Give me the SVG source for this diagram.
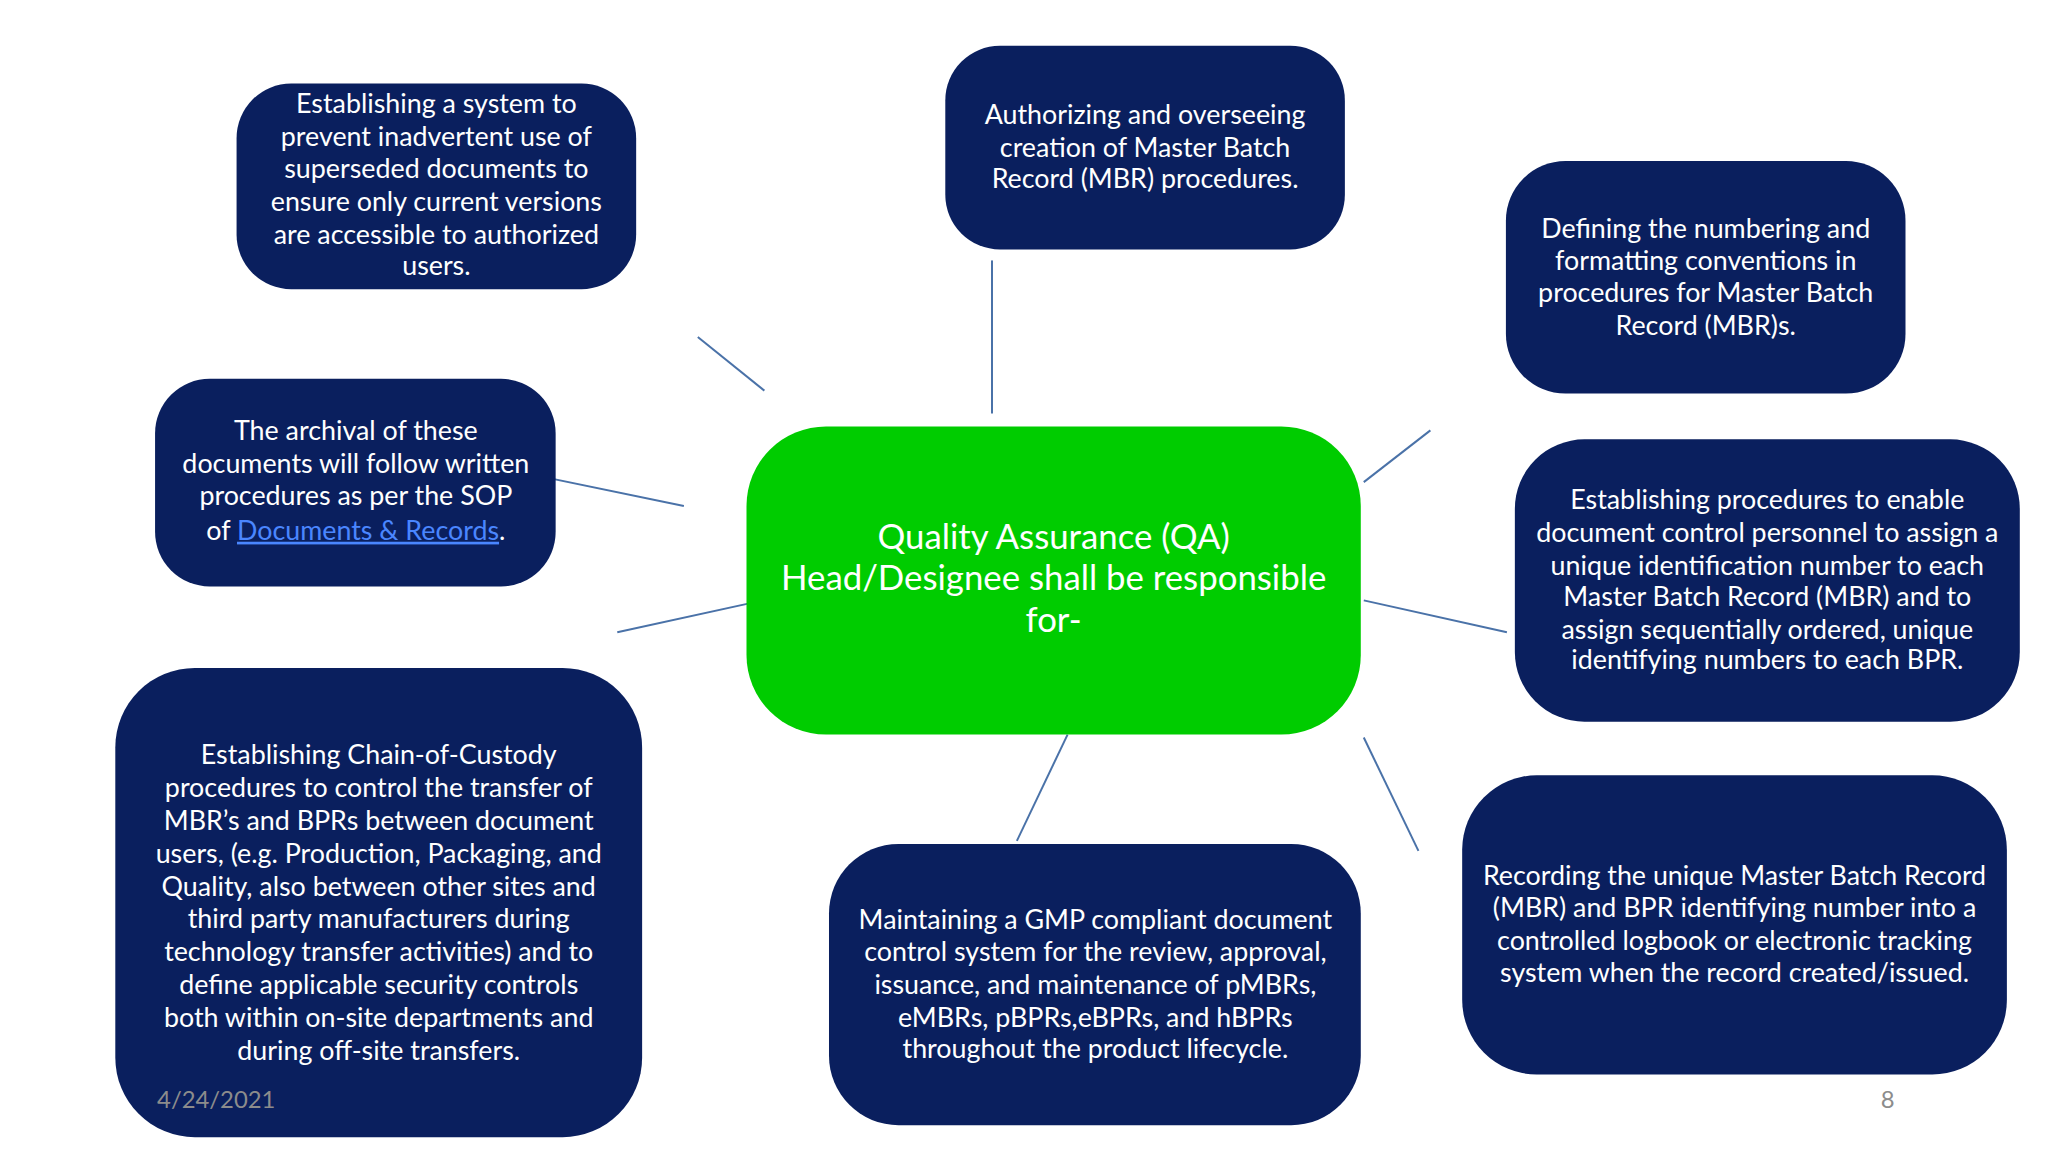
<svg xmlns="http://www.w3.org/2000/svg" width="2048" height="1152" viewBox="0 0 2048 1152">
<style>
.n{fill:#0a1f5e}
.t{font-family:Lato,"Open Sans",sans-serif;font-size:27px;fill:#fff;text-anchor:middle}
.c{font-family:Lato,"Open Sans",sans-serif;font-size:35px;fill:#fff;text-anchor:middle}
.l{stroke:#4a72a8;stroke-width:2;fill:none}
.f{font-family:Lato,"Open Sans",sans-serif;font-size:24px;fill:#8c8c8c}
</style>
<rect width="2048" height="1152" fill="#fff"/>
<g transform="scale(0.994)">
<g id="connectors">
<line class="l" x1="702" y1="339" x2="769" y2="393"/>
<line class="l" x1="998" y1="262" x2="998" y2="416"/>
<line class="l" x1="1439" y1="433" x2="1372" y2="485"/>
<line class="l" x1="533" y1="477" x2="688" y2="509" stroke-width="1"/>
<line class="l" x1="621" y1="636" x2="763" y2="605"/>
<line class="l" x1="1372" y1="604" x2="1516" y2="636"/>
<line class="l" x1="1074" y1="739" x2="1023" y2="846"/>
<line class="l" x1="1372" y1="742" x2="1427" y2="856"/>
</g>
<g id="center">
<rect x="751" y="429" width="618" height="310" rx="80" fill="#00cc00"/>
<text class="c" x="1060" y="552">Quality Assurance (QA)</text>
<text class="c" x="1060" y="594">Head/Designee shall be responsible</text>
<text class="c" x="1060" y="636">for-</text>
</g>
<g id="n1">
<rect class="n" x="238" y="84" width="402" height="207" rx="55"/>
<text class="t" x="439"><tspan x="439" y="114">Establishing a system to</tspan><tspan x="439" y="147">prevent inadvertent use of</tspan><tspan x="439" y="179">superseded documents to</tspan><tspan x="439" y="212">ensure only current versions</tspan><tspan x="439" y="245">are accessible to authorized</tspan><tspan x="439" y="277">users.</tspan></text>
</g>
<g id="n2">
<rect class="n" x="951" y="46" width="402" height="205" rx="55"/>
<text class="t"><tspan x="1152" y="125">Authorizing and overseeing</tspan><tspan x="1152" y="158">creation of Master Batch</tspan><tspan x="1152" y="189">Record (MBR) procedures.</tspan></text>
</g>
<g id="n3">
<rect class="n" x="1515" y="162" width="402" height="234" rx="60"/>
<text class="t"><tspan x="1716" y="239">Defining the numbering and</tspan><tspan x="1716" y="272">formatting conventions in</tspan><tspan x="1716" y="304">procedures for Master Batch</tspan><tspan x="1716" y="337">Record (MBR)s.</tspan></text>
</g>
<g id="n4">
<rect class="n" x="156" y="381" width="403" height="209" rx="55"/>
<text class="t"><tspan x="358" y="443">The archival of these</tspan><tspan x="358" y="476">documents will follow written</tspan><tspan x="358" y="508">procedures as per the SOP</tspan><tspan x="358" y="543">of <tspan fill="#4a86ff" text-decoration="underline">Documents &amp; Records</tspan>.</tspan></text>
</g>
<g id="n5">
<rect class="n" x="1524" y="442" width="508" height="284" rx="70"/>
<text class="t"><tspan x="1778" y="512">Establishing procedures to enable</tspan><tspan x="1778" y="545">document control personnel to assign a</tspan><tspan x="1778" y="578">unique identification number to each</tspan><tspan x="1778" y="610">Master Batch Record (MBR) and to</tspan><tspan x="1778" y="643">assign sequentially ordered, unique</tspan><tspan x="1778" y="673">identifying numbers to each BPR.</tspan></text>
</g>
<g id="n6">
<rect class="n" x="116" y="672" width="530" height="472" rx="80"/>
<text class="t"><tspan x="381" y="769">Establishing Chain-of-Custody</tspan><tspan x="381" y="802">procedures to control the transfer of</tspan><tspan x="381" y="835">MBR’s and BPRs between document</tspan><tspan x="381" y="868">users, (e.g. Production, Packaging, and</tspan><tspan x="381" y="901">Quality, also between other sites and</tspan><tspan x="381" y="934">third party manufacturers during</tspan><tspan x="381" y="967">technology transfer activities) and to</tspan><tspan x="381" y="1000">define applicable security controls</tspan><tspan x="381" y="1033">both within on-site departments and</tspan><tspan x="381" y="1066">during off-site transfers.</tspan></text>
</g>
<g id="n7">
<rect class="n" x="834" y="849" width="535" height="283" rx="70"/>
<text class="t"><tspan x="1102" y="935">Maintaining a GMP compliant document</tspan><tspan x="1102" y="967">control system for the review, approval,</tspan><tspan x="1102" y="1000">issuance, and maintenance of pMBRs,</tspan><tspan x="1102" y="1033">eMBRs, pBPRs,eBPRs, and hBPRs</tspan><tspan x="1102" y="1064">throughout the product lifecycle.</tspan></text>
</g>
<g id="n8">
<rect class="n" x="1471" y="780" width="548" height="301" rx="75"/>
<text class="t"><tspan x="1745" y="890">Recording the unique Master Batch Record</tspan><tspan x="1745" y="923">(MBR) and BPR identifying number into a</tspan><tspan x="1745" y="956">controlled logbook or electronic tracking</tspan><tspan x="1745" y="988">system when the record created/issued.</tspan></text>
</g>
<text class="f" x="158" y="1115">4/24/2021</text>
<text class="f" x="1892" y="1115">8</text>
</g>
</svg>
